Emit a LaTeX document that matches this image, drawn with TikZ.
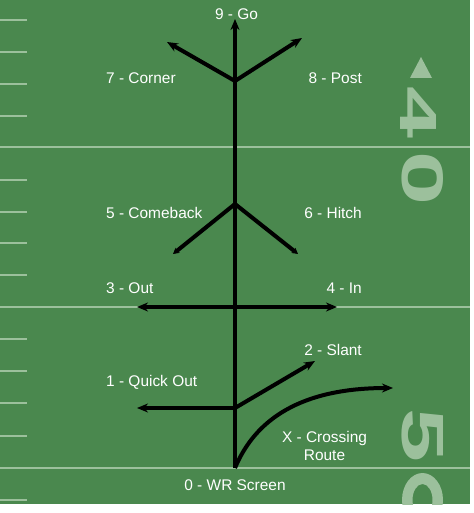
\documentclass[tikz,border=0pt]{standalone}
\usepackage{fontspec}
\setmainfont{Liberation Sans}
\usetikzlibrary{arrows.meta}
\definecolor{field}{RGB}{74,136,78}
\definecolor{chalk}{RGB}{156,192,156}
\begin{document}
\begin{tikzpicture}[x=1bp,y=-1bp,
  route/.style={line width=4bp,-{Stealth[length=11bp,width=9bp]}},
  stub/.style={line width=4bp,-{Stealth[length=6bp,width=6.5bp]}},
  lbl/.style={text=white,font=\fontsize{15.5}{18}\selectfont,inner sep=0pt},
  chalkline/.style={chalk,line width=2bp},
  bignum/.style={text=chalk,inner sep=0pt,rotate=-90,font=\bfseries}]
\useasboundingbox (0,0) rectangle (474,513);
\fill[field] (0,0) rectangle (470,504);
% hash marks
\foreach \h in {20,52,84,116,180,212,243,275,339,371,403,436,500}
  \draw[chalkline] (0,\h) -- (27,\h);
% yard lines
\foreach \h in {147,307,468}
  \draw[chalkline] (0,\h) -- (470,\h);
% yard numbers
\fill[chalk] (421,57) -- (432,78) -- (410,78) -- cycle;
\node[bignum] (n4) at (418,113) {\resizebox{52bp}{36bp}{4}};
\node[bignum] (n40) at (422.5,179) {\resizebox{54bp}{41bp}{0}};
\node[bignum] (n5) at (422.5,436) {\resizebox{54bp}{41bp}{5}};
\begin{scope}
\clip (0,0) rectangle (470,504);
\fill[chalk,even odd rule] (422.5,500) ellipse [x radius=20.5bp,y radius=27bp]
  (422.5,500) ellipse [x radius=10bp,y radius=16bp];
\end{scope}
% route points
\coordinate (base) at (235,468);
\coordinate (top) at (235,19);
\coordinate (b78) at (235,81);
\coordinate (t7) at (167,42);
\coordinate (t8) at (302,38);
\coordinate (b56) at (235,204);
\coordinate (t5) at (173,254);
\coordinate (t6) at (298,254);
\coordinate (b34) at (235,307);
\coordinate (t3) at (137,307);
\coordinate (t4) at (337,307);
\coordinate (b12) at (235,408);
\coordinate (t1) at (137,408);
\coordinate (t2) at (315,361);
\coordinate (tx) at (393,388);
% routes
\draw[route] (base) -- (top);
\draw[route] (b78) -- (t7);
\draw[route] (b78) -- (t8);
\draw[stub] (b56) -- (t5);
\draw[stub] (b56) -- (t6);
\draw[route] (b34) -- (t3);
\draw[route] (b34) -- (t4);
\draw[route] (b12) -- (t1);
\draw[route] (b12) -- (t2);
\draw[route] (base) .. controls (255,420) and (300,388) .. (tx);
% labels
\node[lbl,anchor=base] (l9) at (236.5,19.5) {9 - Go};
\node[lbl,anchor=base west] (l7) at (106,84) {7 - Corner};
\node[lbl,anchor=base east] (l8) at (362,84) {8 - Post};
\node[lbl,anchor=base west] (l5) at (106,218) {5 - Comeback};
\node[lbl,anchor=base east] (l6) at (362,218) {6 - Hitch};
\node[lbl,anchor=base west] (l3) at (106,293) {3 - Out};
\node[lbl,anchor=base east] (l4) at (362,293) {4 - In};
\node[lbl,anchor=base east] (l2) at (362,355) {2 - Slant};
\node[lbl,anchor=base west] (l1) at (106,386) {1 - Quick Out};
\node[lbl,anchor=base,align=center] (lx) at (324.5,460) {X - Crossing\\Route};
\node[lbl,anchor=base] (l0) at (235,490) {0 - WR Screen};
\end{tikzpicture}
\end{document}
